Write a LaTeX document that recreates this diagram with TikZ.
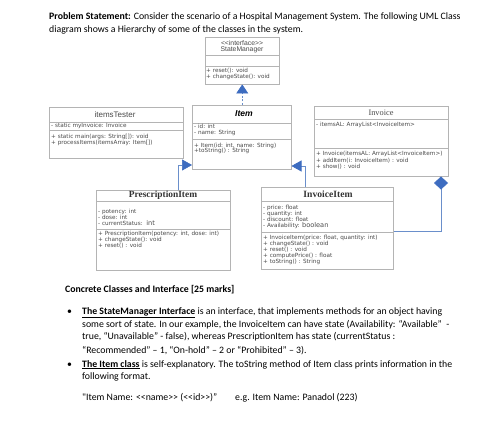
\documentclass[tikz,border=0pt]{standalone}
\usepackage{fontspec}
\newfontfamily\bodyfont{Carlito}
\newfontfamily\umlfont{DejaVu Sans}
\newfontfamily\umlhfont{Liberation Sans}
\newfontfamily\umlserif{Liberation Serif}
\usetikzlibrary{arrows.meta}
\definecolor{boxgray}{HTML}{B4B4B4}
\definecolor{umlgray}{HTML}{4A4A4A}
\definecolor{connblue}{HTML}{6A8FCB}
\definecolor{tri}{HTML}{3D6CC0}
\begin{document}
\begin{tikzpicture}[x=1pt,y=-1pt,
  body/.style={anchor=base west, inner sep=0pt, font=\bodyfont\fontsize{9.8}{11}\selectfont, text=black},
  umlbox/.style={draw=boxgray, line width=0.5pt, anchor=north west, inner sep=0pt},
  divider/.style={draw=boxgray, line width=0.5pt},
  umltxt/.style={anchor=base west, inner sep=0pt, font=\umlfont\fontsize{5.7}{6}\selectfont, text=umlgray},
  umlhead/.style={anchor=center, inner sep=0pt, text=umlgray},
  conn/.style={draw=connblue, line width=0.6pt},
  gen/.style={-{Triangle[length=10pt,width=11pt,fill=tri,color=tri]}},
]
\useasboundingbox[fill=white] (0,0) rectangle (490,433);

% ---------- title ----------
\node[body] (t1) at (49,19.7) {\textbf{Problem Statement:} Consider the scenario of a Hospital Management System. The following UML Class};
\node[body] (t2) at (49,33) {diagram shows a Hierarchy of some of the classes in the system.};

% ---------- StateManager ----------
\node[umlbox, minimum width=74pt, minimum height=47pt] (sm) at (205,37) {};
\draw[divider] (205,55) -- (279,55);
\draw[divider] (205,66) -- (279,66);
\node[umlhead, font=\umlhfont\fontsize{6.8}{7}\selectfont] (smh1) at (242,43) {<<interface>>};
\node[umlhead, font=\umlhfont\fontsize{6.8}{7}\selectfont] (smh2) at (242,50) {StateManager};
\node[umltxt] (sm1) at (206,73) {+ reset(): void};
\node[umltxt] (sm2) at (206,79) {+ changeState(): void};

% ---------- itemsTester ----------
\node[umlbox, minimum width=134pt, minimum height=51pt] (tester) at (49,107) {};
\draw[divider] (49,122) -- (183,122);
\draw[divider] (49,130) -- (183,130);
\node[umlhead, font=\umlhfont\fontsize{8}{9}\selectfont] (testerh) at (115,114.5) {itemsTester};
\node[umltxt] (te1) at (51,128) {- static myInvoice: Invoice};
\node[umltxt] (te2) at (51,139) {+ static main(args: String[]): void};
\node[umltxt] (te3) at (51,145) {+ processItems(itemsArray: Item[])};

% ---------- Item ----------
\node[umlbox, minimum width=99pt, minimum height=64pt] (item) at (192,105) {};
\draw[divider] (192,123) -- (291,123);
\draw[divider] (192,139) -- (291,139);
\node[umlhead, font=\umlhfont\fontsize{8.6}{9}\selectfont\bfseries\itshape, text=black] (itemh) at (244,114) {Item};
\node[umltxt] (it1) at (194,129) {- id: int};
\node[umltxt] (it2) at (194,135) {- name: String};
\node[umltxt] (it3) at (194,147) {+ Item(id: int, name: String)};
\node[umltxt] (it4) at (194,153) {+toString() : String};

% ---------- Invoice ----------
\node[umlbox, minimum width=134pt, minimum height=70pt] (invoice) at (314,106) {};
\draw[divider] (314,119) -- (448,119);
\draw[divider] (314,148) -- (448,148);
\node[umlhead, font=\umlserif\fontsize{8.3}{9}\selectfont] (invh) at (381,113) {Invoice};
\node[umltxt] (in1) at (316,127) {- itemsAL: ArrayList<InvoiceItem>};
\node[umltxt] (in2) at (316,156) {+ Invoice(itemsAL: ArrayList<InvoiceItem>)};
\node[umltxt] (in3) at (316,162) {+ addItem(i: InvoiceItem) : void};
\node[umltxt] (in4) at (316,168) {+ show() : void};

% ---------- PrescriptionItem ----------
\node[umlbox, minimum width=134pt, minimum height=80pt] (presc) at (96,190) {};
\draw[divider] (96,201) -- (230,201);
\draw[divider] (96,229) -- (230,229);
\node[umlhead, font=\umlserif\fontsize{9.4}{10}\selectfont\bfseries, text=black!80] (presch) at (163,195.5) {PrescriptionItem};
\node[umltxt] (pr1) at (98,213.5) {- potency: int};
\node[umltxt] (pr2) at (98,219.5) {- dose: int};
\node[umltxt] (pr3) at (98,225.5) {- currentStatus:\ \ {\fontsize{6.6}{7}\selectfont int}};
\node[umltxt] (pr4) at (98,235.5) {+ PrescriptionItem(potency: int, dose: int)};
\node[umltxt] (pr5) at (98,241.5) {+ changeState(): void};
\node[umltxt] (pr6) at (98,247.5) {+ reset() : void};

% ---------- InvoiceItem ----------
\node[umlbox, minimum width=132pt, minimum height=82pt] (invitem) at (261,187) {};
\draw[divider] (261,201) -- (393,201);
\draw[divider] (261,232) -- (393,232);
\node[umlhead, font=\umlserif\fontsize{9.6}{10}\selectfont\bfseries, text=black!80] (invitemh) at (328,194) {InvoiceItem};
\node[umltxt] (ii1) at (263,209) {- price: float};
\node[umltxt] (ii2) at (263,215) {- quantity: int};
\node[umltxt] (ii3) at (263,221) {- discount: float};
\node[umltxt] (ii4) at (263,227.5) {- Availability: {\fontsize{6.6}{7}\selectfont boolean}};
\node[umltxt] (ii5) at (263,239) {+ InvoiceItem(price: float, quantity: int)};
\node[umltxt] (ii6) at (263,245) {+ changeState() : void};
\node[umltxt] (ii7) at (263,251) {+ reset() : void};
\node[umltxt] (ii8) at (263,257) {+ computePrice() : float};
\node[umltxt] (ii9) at (263,263) {+ toString() : String};

% ---------- connectors ----------
\coordinate (pA) at (178,165);
\coordinate (pB) at (305,166);
\coordinate (pC) at (441,231);
\draw[conn, dash pattern=on 2pt off 1.5pt, -{Triangle[length=9pt,width=12pt,fill=tri,color=tri]}] (item.north -| sm.south) -- (sm.south);
\draw[conn, gen] (presc.north -| pA) |- (item.west |- pA);
\draw[conn, gen] (invitem.north -| pB) |- (item.east |- pB);
\draw[conn, {Diamond[length=13pt,width=14pt,fill=tri,color=tri]}-] (invoice.south -| pC) |- (invitem.east |- pC);

% ---------- body text ----------
\node[body] (h1) at (65,292.5) {\textbf{Concrete Classes and Interface [25 marks]}};
\node[body] (b1) at (67,314) {•};
\node[body] (l1) at (82,314) {\textbf{\underline{The StateManager Interface}} is an interface, that implements methods for an object having};
\node[body] (l2) at (82,327.3) {some sort of state. In our example, the InvoiceItem can have state (Availability: “Available”\ \ -};
\node[body] (l3) at (82,339.7) {true, “Unavailable” - false), whereas PrescriptionItem has state (currentStatus :};
\node[body] (l4) at (82,353) {“Recommended” – 1, “On-hold” – 2 or “Prohibited” – 3).};
\node[body] (b2) at (67,367) {•};
\node[body] (l5) at (82,367) {\textbf{\underline{The Item class}} is self-explanatory. The toString method of Item class prints information in the};
\node[body] (l6) at (82,379.7) {following format.};
\node[body] (l7) at (82,400.3) {"Item Name: <<name>> (<<id>>)”};
\node[body] (l8) at (235,400.3) {e.g. Item Name: Panadol (223)};
\end{tikzpicture}
\end{document}
